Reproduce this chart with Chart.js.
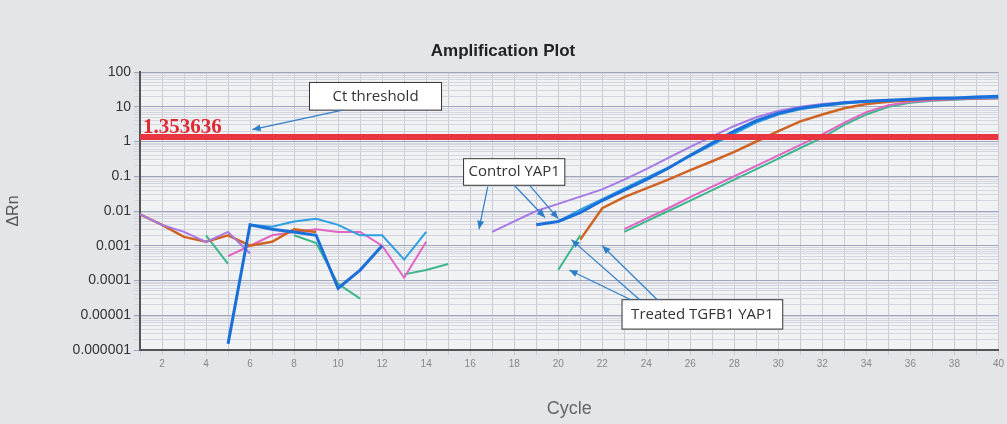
<!DOCTYPE html>
<html>
<head>
<meta charset="utf-8">
<script src="https://cdn.jsdelivr.net/npm/chart.js@4"></script>
<style>
  body { margin: 0; background: #e4e5e8; }
  #wrap { width: 1007px; height: 424px; }
</style>
</head>
<body>
<div id="wrap"><canvas id="plot" width="1007" height="424"></canvas></div>
<script>
// Cycles 1..40
const cycles = [];
for (let i = 1; i <= 40; i++) cycles.push(i);

const N = null;
// Control YAP1 wells
const controlBlue = [N,N,N,N,0.0000015,0.004,0.003,0.0025,0.002,0.00006,0.0002,0.001,N,N,N,N,N,N,
  0.004,0.005,0.009,0.02,0.04,0.08,0.17,0.4,0.9,2.0,4.0,6.5,9,11,13,14.5,15.5,16.5,17.5,18,19,20];
const controlTeal = [N,N,N,N,N,0.004,0.0035,0.005,0.006,0.004,0.002,0.002,0.0004,0.0025,N,N,N,N,N,
  0.005,0.011,0.022,0.045,0.09,0.18,0.38,0.8,1.7,3.5,6,8.5,10.5,12.5,14,15,16,17,17.5,18,18.5];
const controlPurple = [0.008,0.004,0.0025,0.0013,0.0025,0.0006,N,N,N,N,N,N,N,N,N,N,
  0.0025,0.005,0.01,0.016,0.026,0.042,0.08,0.16,0.34,0.7,1.4,2.8,5,7.5,10,12,13.5,14.5,15.5,16,16.5,17,17.5,18];
// Treated TGFB1 YAP1 wells
const treatedOrange = [0.008,0.004,0.0018,0.0013,0.002,0.001,0.0013,0.003,0.0025,N,N,N,N,N,N,N,N,N,N,N,
  0.0015,0.012,0.025,0.045,0.08,0.15,0.27,0.5,1.0,2.0,3.8,6,9,12,14,15.5,16.5,17,17.5,18];
const treatedMagenta = [N,N,N,N,0.0005,0.001,0.002,0.0025,0.003,0.0025,0.0025,0.001,0.00012,0.0013,N,N,N,N,N,N,N,N,
  0.003,0.006,0.012,0.025,0.05,0.1,0.2,0.4,0.8,1.6,3.5,7,11,14,15.5,16.5,17,17.5];
const treatedGreen = [N,N,N,0.002,0.0003,N,N,0.002,0.0012,0.00008,0.00003,N,0.00015,0.0002,0.0003,N,N,N,N,
  0.0002,0.002,N,0.0025,0.005,0.01,0.02,0.04,0.08,0.16,0.32,0.65,1.3,3,6,10,13,15,16,17,17.5];

const threshold = 1.353636;
const yTicks = [0.000001,0.00001,0.0001,0.001,0.01,0.1,1,10,100];

// Annotation boxes and arrows, in data coordinates (cycle, value)
const notes = [
  { text: 'Ct threshold', box: [8.7, 50, 14.7, 8], arrows: [[[10.2, 8], [6.1, 2.2]]] },
  { text: 'Control YAP1', box: [15.7, 0.32, 20.3, 0.055], arrows: [
      [[16.8, 0.05], [16.4, 0.003]], [[18.7, 0.055], [20.0, 0.006]], [[18.0, 0.055], [19.4, 0.0065]] ] },
  { text: 'Treated TGFB1 YAP1', box: [22.9, 0.000028, 30.2, 0.000004], arrows: [
      [[23.3, 0.000028], [20.5, 0.0002]], [[23.7, 0.000028], [20.6, 0.0015]], [[24.5, 0.000028], [22.0, 0.001]] ] }
];

const series = [
  { label: 'Control 1', data: controlBlue, color: '#1b6fd8', width: 3 },
  { label: 'Control 2', data: controlTeal, color: '#2d9fe2', width: 2 },
  { label: 'Control 3', data: controlPurple, color: '#a679e6', width: 2 },
  { label: 'Treated 1', data: treatedOrange, color: '#cf6322', width: 2.5 },
  { label: 'Treated 2', data: treatedMagenta, color: '#e064c4', width: 2 },
  { label: 'Treated 3', data: treatedGreen, color: '#3db68c', width: 2 }
];

const overlay = {
  id: 'overlay',
  afterDatasetsDraw(chart) {
    const ctx = chart.ctx, x = chart.scales.x, y = chart.scales.y, a = chart.chartArea;
    ctx.save();
    // threshold line
    const ty = y.getPixelForValue(threshold);
    ctx.strokeStyle = '#e8353f';
    ctx.lineWidth = 6;
    ctx.beginPath(); ctx.moveTo(a.left, ty); ctx.lineTo(a.right, ty); ctx.stroke();
    ctx.fillStyle = '#e02a33';
    ctx.font = 'bold 21px "Liberation Serif"';
    ctx.textBaseline = 'bottom';
    ctx.fillText(threshold.toFixed(6), a.left + 3, ty + 1);
    // notes
    ctx.font = '15px "Open Sans"';
    notes.forEach(n => {
      const x0 = x.getPixelForValue(n.box[0]), y0 = y.getPixelForValue(n.box[1]);
      const x1 = x.getPixelForValue(n.box[2]), y1 = y.getPixelForValue(n.box[3]);
      ctx.fillStyle = '#ffffff';
      ctx.fillRect(x0, y0, x1 - x0, y1 - y0);
      ctx.strokeStyle = '#333';
      ctx.lineWidth = 1;
      ctx.strokeRect(x0, y0, x1 - x0, y1 - y0);
      ctx.fillStyle = '#333';
      ctx.textAlign = 'center';
      ctx.textBaseline = 'middle';
      ctx.fillText(n.text, (x0 + x1) / 2, (y0 + y1) / 2);
      n.arrows.forEach(([p, q]) => {
        const px = x.getPixelForValue(p[0]), py = y.getPixelForValue(p[1]);
        const qx = x.getPixelForValue(q[0]), qy = y.getPixelForValue(q[1]);
        ctx.strokeStyle = '#2f7fc8'; ctx.fillStyle = '#2f7fc8'; ctx.lineWidth = 1.2;
        ctx.beginPath(); ctx.moveTo(px, py); ctx.lineTo(qx, qy); ctx.stroke();
        const ang = Math.atan2(qy - py, qx - px);
        ctx.beginPath();
        ctx.moveTo(qx, qy);
        ctx.lineTo(qx - 9 * Math.cos(ang - 0.4), qy - 9 * Math.sin(ang - 0.4));
        ctx.lineTo(qx - 9 * Math.cos(ang + 0.4), qy - 9 * Math.sin(ang + 0.4));
        ctx.closePath(); ctx.fill();
      });
    });
    // title
    ctx.fillStyle = '#222';
    ctx.font = 'bold 17px Arial, "Liberation Sans"';
    ctx.textAlign = 'center';
    ctx.textBaseline = 'middle';
    ctx.fillText('Amplification Plot', 503, 51);
    ctx.restore();
  },
  beforeDraw(chart) {
    const ctx = chart.ctx, a = chart.chartArea;
    ctx.save();
    ctx.fillStyle = '#f1f2f4';
    ctx.fillRect(a.left, a.top, a.right - a.left, a.bottom - a.top);
    ctx.restore();
  }
};

new Chart(document.getElementById('plot'), {
  type: 'line',
  data: {
    labels: cycles,
    datasets: series.map(s => ({
      label: s.label, data: s.data, borderColor: s.color, borderWidth: s.width,
      pointRadius: 0, tension: 0, spanGaps: false, fill: false
    }))
  },
  options: {
    responsive: false,
    animation: false,
    layout: { padding: { top: 72, right: 7, left: 0, bottom: 0 } },
    plugins: { legend: { display: false }, tooltip: { enabled: false } },
    scales: {
      x: {
        type: 'linear', min: 1, max: 40,
        afterFit: s => { s.height = 74; },
        ticks: { stepSize: 1, autoSkip: false, maxRotation: 0, color: '#888', font: { size: 10 },
          callback: v => (v % 2 === 0 ? v : '') },
        grid: { color: '#c9ccd6', tickLength: 5 },
        border: { color: '#555', width: 2 },
        title: { display: true, text: 'Cycle', color: '#666', font: { size: 18 }, padding: { top: 2 } }
      },
      y: {
        type: 'logarithmic', min: 0.000001, max: 100,
        afterFit: s => { s.width = 140; },
        afterBuildTicks: s => {
          const t = [];
          yTicks.forEach((d, i) => {
            t.push({ value: d, major: true });
            if (i < yTicks.length - 1) for (let k = 2; k <= 9; k++) t.push({ value: d * k });
          });
          s.ticks = t;
        },
        ticks: { color: '#333', font: { size: 14 }, autoSkip: false,
          callback: function (v) {
            if (!yTicks.includes(v)) return '';
            return v >= 1 ? String(v) : v.toFixed(Math.round(-Math.log10(v)));
          } },
        grid: { color: c => (c.tick && c.tick.major ? '#9ea6bb' : '#d3d6de'), tickLength: 6 },
        border: { color: '#555', width: 2 },
        title: { display: true, text: 'ΔRn', color: '#555', font: { size: 16 } }
      }
    }
  },
  plugins: [overlay]
});
</script>
</body>
</html>
